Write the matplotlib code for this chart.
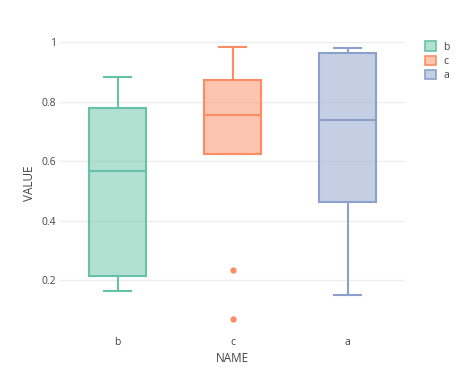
import matplotlib
matplotlib.use("Agg")
import matplotlib.pyplot as plt
from matplotlib.patches import Patch

names = ["b", "c", "a"]
whislo = [0.163, 0.623, 0.15]
q1 = [0.213, 0.623, 0.462]
med = [0.566, 0.755, 0.738]
q3 = [0.78, 0.872, 0.963]
whishi = [0.882, 0.983, 0.98]
fliers = [[], [0.234, 0.072], []]
colors = ["#66c2a5", "#fc8d62", "#8da0cb"]
yticks = [0.2, 0.4, 0.6, 0.8, 1.0]
yticklabels = ["0.2", "0.4", "0.6", "0.8", "1"]

plt.rcParams['font.family'] = ['Open Sans', 'DejaVu Sans']
fig = plt.figure(figsize=(4.74, 3.76), dpi=100)
W, H = 474, 376
ax = fig.add_axes([60 / W, (H - 334) / H, (405 - 60) / W, (334 - 33) / H])

stats = []
for i in range(len(names)):
    stats.append(dict(label=names[i], whislo=whislo[i], q1=q1[i], med=med[i],
                      q3=q3[i], whishi=whishi[i], fliers=fliers[i]))

for i, s in enumerate(stats):
    c = colors[i]
    ax.bxp([s], positions=[i], widths=0.5, patch_artist=True, showfliers=True,
           boxprops=dict(facecolor=matplotlib.colors.to_rgba(c, 0.5), edgecolor=c, linewidth=1.5),
           medianprops=dict(color=c, linewidth=1.5),
           whiskerprops=dict(color=c, linewidth=1.5),
           capprops=dict(color=c, linewidth=1.5),
           capwidths=0.24,
           flierprops=dict(marker='o', markersize=3.5, markerfacecolor=c,
                           markeredgecolor=c, linestyle='none'),
           zorder=3)

ax.set_xlim(-0.5, 2.5)
ax.set_ylim(0.02, 1.03)
ax.set_xticks(range(len(names)))
ax.set_xticklabels(names)
ax.set_yticks(yticks)
ax.set_yticklabels(yticklabels)
for sp in ax.spines.values():
    sp.set_visible(False)
ax.grid(axis='y', color='#eeeeee', linewidth=1, zorder=0)
ax.set_axisbelow(True)
ax.tick_params(axis='y', length=0, labelsize=7.5, colors='#444444', pad=3)
ax.tick_params(axis='x', length=0, labelsize=7.5, colors='#444444', pad=2)
ax.set_xlabel("NAME", fontsize=8.5, color='#444444', labelpad=3)
ax.set_ylabel("VALUE", fontsize=8.5, color='#444444', labelpad=4)

handles = [Patch(facecolor=matplotlib.colors.to_rgba(c, 0.5), edgecolor=c, linewidth=1.2) for c in colors]
leg = fig.legend(handles, names, loc='upper left', bbox_to_anchor=(416 / W, 1 - 32 / H),
                 frameon=False, fontsize=7.5, handlelength=1.0, handleheight=1.0,
                 handletextpad=0.7, labelspacing=0.3)
for t in leg.get_texts():
    t.set_color('#444444')

fig.savefig("out.png", dpi=100)
